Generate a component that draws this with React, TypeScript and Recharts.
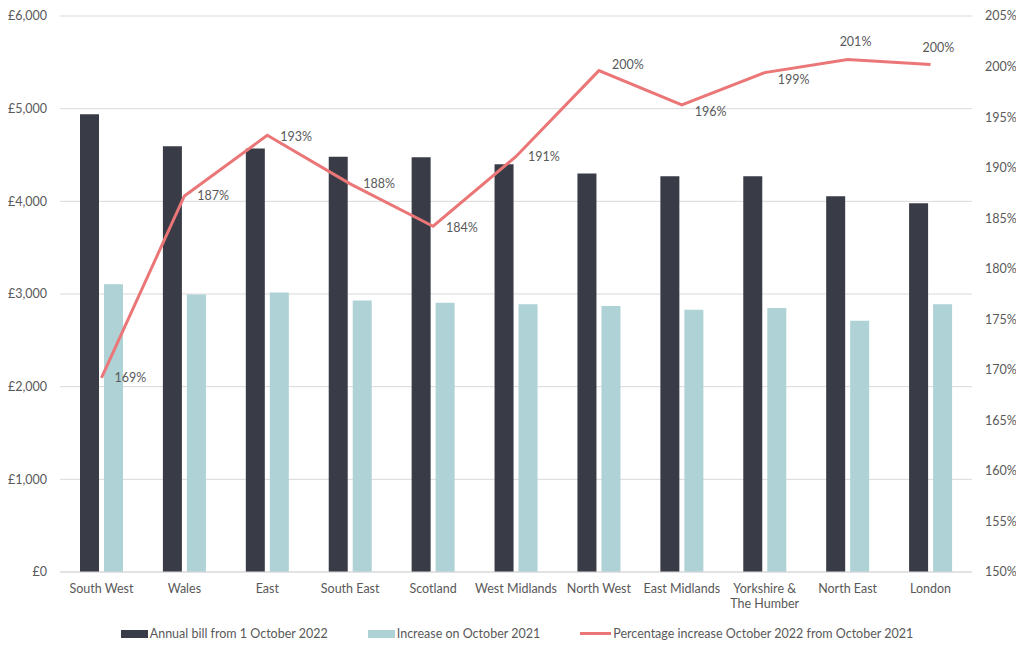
import {
  ComposedChart,
  Bar,
  Line,
  XAxis,
  YAxis,
  CartesianGrid,
  LabelList,
} from 'recharts';

const regions = [
  'South West',
  'Wales',
  'East',
  'South East',
  'Scotland',
  'West Midlands',
  'North West',
  'East Midlands',
  'Yorkshire & The Humber',
  'North East',
  'London',
];

// £ per year
const annualBill = [4940, 4595, 4570, 4480, 4475, 4400, 4300, 4270, 4270, 4055, 3980];
const increaseOnLastYear = [3105, 2995, 3015, 2930, 2905, 2890, 2870, 2830, 2850, 2710, 2890];
// % increase Oct 2022 vs Oct 2021
const pctIncrease = [169.2, 187.2, 193.2, 188.4, 184.2, 191.1, 199.6, 196.2, 199.4, 200.7, 200.2];

const billTicks = [0, 1000, 2000, 3000, 4000, 5000, 6000];
const pctTicks = [150, 155, 160, 165, 170, 175, 180, 185, 190, 195, 200, 205];

// nudges for the percentage labels [dx, dy]
const labelNudge: [number, number][] = [
  [13, 0], [13, 0], [13, 1], [13, 0], [13, 1], [12, 0],
  [13, -6], [13, 7], [13, 7], [-8, -18], [-8, -17],
];

const DARK = '#393c46';
const TEAL = '#aed2d6';
const SALMON = '#eb7677';
const TEXT = '#595959';
const GRID = '#d9d9d9';
const FONT = 'Lato, "Noto Sans", sans-serif';
const FS = 12.5;

const data = regions.map((region, i) => ({
  region,
  bill: annualBill[i],
  increase: increaseOnLastYear[i],
  pct: pctIncrease[i],
}));

const fmtPound = (v: number) => '£' + v.toLocaleString('en-GB');

function wrapWords(label: string, maxChars: number): string[] {
  const lines: string[] = [];
  let cur = '';
  for (const w of label.split(' ')) {
    const next = cur ? cur + ' ' + w : w;
    if (next.length > maxChars && cur) {
      lines.push(cur);
      cur = w;
    } else {
      cur = next;
    }
  }
  if (cur) lines.push(cur);
  return lines;
}

function RegionTick(props: any) {
  const { x, y, payload } = props;
  const lines = wrapWords(String(payload.value), 14);
  return (
    <text x={x} y={y} textAnchor="middle" fill={TEXT} fontSize={FS} fontFamily={FONT}>
      {lines.map((ln, i) => (
        <tspan key={i} x={x} dy={i === 0 ? '0.71em' : 15}>
          {ln}
        </tspan>
      ))}
    </text>
  );
}

function PctLabel(props: any) {
  const { x, y, value, index } = props;
  const [dx, dy] = labelNudge[index] ?? [13, 0];
  return (
    <text
      x={x + dx}
      y={y + dy}
      dominantBaseline="central"
      fill={TEXT}
      fontSize={FS}
      fontFamily={FONT}
    >
      {Math.round(value)}%
    </text>
  );
}

function LegendRow() {
  const item = { display: 'flex', alignItems: 'center', gap: 2 } as const;
  return (
    <div
      style={{
        position: 'absolute',
        left: 0,
        top: 618,
        width: 1008,
        paddingLeft: 10,
        boxSizing: 'border-box',
        display: 'flex',
        justifyContent: 'center',
        gap: 40,
        fontFamily: FONT,
        fontSize: FS,
        color: TEXT,
      }}
    >
      <div style={item}>
        <span style={{ width: 27, height: 8, background: DARK, display: 'inline-block' }} />
        <span>Annual bill from 1 October 2022</span>
      </div>
      <div style={item}>
        <span style={{ width: 27, height: 8, background: TEAL, display: 'inline-block' }} />
        <span>Increase on October 2021</span>
      </div>
      <div style={item}>
        <span style={{ width: 31, height: 3, background: SALMON, display: 'inline-block' }} />
        <span>Percentage increase October 2022 from October 2021</span>
      </div>
    </div>
  );
}

export default function App() {
  return (
    <div style={{ position: 'relative', width: 1008, height: 640 }}>
      <ComposedChart
        width={1008}
        height={640}
        data={data}
        margin={{ top: 8, right: 0, bottom: 36, left: 0 }}
        barSize={19}
        barGap={5}
        style={{ overflow: 'visible' }}
      >
        <CartesianGrid yAxisId="bill" vertical={false} stroke={GRID} strokeWidth={1} />
        <XAxis
          dataKey="region"
          height={40}
          tickLine={false}
          axisLine={{ stroke: GRID }}
          tickSize={0}
          tickMargin={12}
          interval={0}
          tick={<RegionTick />}
        />
        <YAxis
          yAxisId="bill"
          orientation="left"
          width={52}
          domain={[0, 6000]}
          ticks={billTicks}
          tickFormatter={fmtPound}
          axisLine={false}
          tickLine={false}
          tickSize={0}
          tickMargin={13}
          tick={{ fill: TEXT, fontSize: FS, fontFamily: FONT }}
        />
        <YAxis
          yAxisId="pct"
          orientation="right"
          width={44}
          domain={[150, 205]}
          ticks={pctTicks}
          tickFormatter={(v: number) => `${v}%`}
          axisLine={false}
          tickLine={false}
          tickSize={0}
          tickMargin={13}
          tick={{ fill: TEXT, fontSize: FS, fontFamily: FONT, textAnchor: 'start' }}
        />
        <Bar yAxisId="bill" dataKey="bill" fill={DARK} isAnimationActive={false} />
        <Bar yAxisId="bill" dataKey="increase" fill={TEAL} isAnimationActive={false} />
        <Line
          yAxisId="pct"
          type="linear"
          dataKey="pct"
          stroke={SALMON}
          strokeWidth={3}
          dot={false}
          activeDot={false}
          isAnimationActive={false}
        >
          <LabelList dataKey="pct" content={<PctLabel />} />
        </Line>
      </ComposedChart>
      <LegendRow />
    </div>
  );
}
